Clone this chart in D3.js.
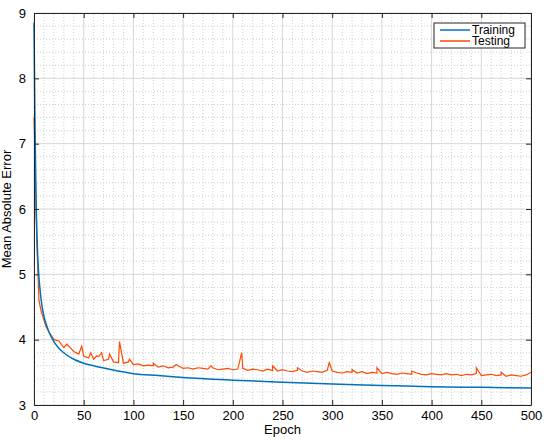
<!DOCTYPE html>
<html><head><meta charset="utf-8">
<script src="https://cdn.jsdelivr.net/npm/d3@7"></script>
<style>body{margin:0;background:#fff}text{font-family:"Liberation Sans",Arial,sans-serif}</style>
</head><body><svg id="chart" width="550" height="440"></svg>
<script>
// Training curve samples (epoch, MAE)
const trainEpochs = [0,1,2,3,4,5,6,8,10,12,15,20,25,30,40,50,60,75,100,125,150,200,250,300,350,400,450,500];
const trainValues = [8.85,7.3,6.2,5.6,5.2,4.95,4.78,4.52,4.36,4.25,4.12,3.97,3.87,3.8,3.7,3.64,3.6,3.55,3.48,3.45,3.42,3.38,3.35,3.32,3.3,3.28,3.27,3.26];

// Testing curve samples every 5 epochs
const testBase = [7.4,4.6,4.3,4.12,4.0,3.98,3.88,3.9,3.82,3.78,3.75,3.72,3.7,3.74,3.68,3.7,3.66,3.65,3.64,3.66,
  3.62,3.63,3.6,3.61,3.6,3.58,3.6,3.57,3.58,3.6,3.56,3.57,3.55,3.57,3.56,3.55,3.57,3.54,3.55,3.56,
  3.54,3.55,3.56,3.53,3.55,3.54,3.52,3.55,3.53,3.52,3.54,3.52,3.51,3.53,3.52,3.5,3.52,3.51,3.5,3.53,
  3.52,3.5,3.49,3.51,3.5,3.49,3.51,3.48,3.5,3.49,3.48,3.5,3.48,3.47,3.49,3.48,3.47,3.49,3.47,3.46,
  3.48,3.47,3.46,3.48,3.46,3.47,3.45,3.47,3.46,3.48,3.45,3.46,3.47,3.45,3.46,3.44,3.46,3.45,3.44,3.46,3.5];
// Extra early points and spikes
const testExtraEpochs = [1,2,3,4,7,12,33,48,57,63,68,76,86,96,120,143,178,209,240,265,297,320,345,380,445,470];
const testExtraValues = [6.9,6.0,5.4,5.0,4.45,4.2,3.93,3.9,3.8,3.75,3.8,3.78,3.97,3.7,3.64,3.62,3.6,3.8,3.6,3.57,3.65,3.54,3.57,3.52,3.57,3.5];

const testPts = testBase.map((v,i)=>[i*5,v]).concat(testExtraEpochs.map((e,i)=>[e,testExtraValues[i]])).sort((a,b)=>a[0]-b[0]);
const trainPts = trainEpochs.map((e,i)=>[e,trainValues[i]]);

const m = {l:34, t:13, r:19, b:35};
const W = 550, H = 440;
const svg = d3.select("#chart");
const x = d3.scaleLinear().domain([0,500]).range([m.l, W-m.r]);
const y = d3.scaleLinear().domain([3,9]).range([H-m.b, m.t]);
const g = svg.append("g");

// minor grid
g.selectAll(".mx").data(d3.range(0,501,10)).join("line")
  .attr("x1",d=>x(d)).attr("x2",d=>x(d)).attr("y1",y(3)).attr("y2",y(9))
  .attr("stroke",d=>d%50===0?"#d6d6d6":"#cfcfcf").attr("stroke-dasharray",d=>d%50===0?null:"1,2");
g.selectAll(".my").data(d3.range(3,9.01,0.2)).join("line")
  .attr("y1",d=>y(d)).attr("y2",d=>y(d)).attr("x1",x(0)).attr("x2",x(500))
  .attr("stroke",d=>Math.abs(d-Math.round(d))<1e-6?"#d6d6d6":"#cfcfcf")
  .attr("stroke-dasharray",d=>Math.abs(d-Math.round(d))<1e-6?null:"1,2");

const line = d3.line().x(d=>x(d[0])).y(d=>y(d[1]));
g.append("path").datum(testPts).attr("d",line).attr("fill","none").attr("stroke","#ff4a00").attr("stroke-width",1.2);
g.append("path").datum(trainPts).attr("d",line.curve(d3.curveMonotoneX)).attr("fill","none").attr("stroke","#0072bd").attr("stroke-width",1.5);

// axes
const axB = svg.append("g").attr("transform",`translate(0,${y(3)})`)
  .call(d3.axisBottom(x).tickValues(d3.range(0,501,50)).tickSizeInner(-5).tickSizeOuter(0).tickPadding(6));
const axL = svg.append("g").attr("transform",`translate(${x(0)},0)`)
  .call(d3.axisLeft(y).ticks(6).tickFormat(d3.format("d")).tickSizeInner(-5).tickSizeOuter(0).tickPadding(8));
const axT = svg.append("g").attr("transform",`translate(0,${y(9)})`)
  .call(d3.axisTop(x).tickValues(d3.range(0,501,50)).tickSizeInner(-5).tickSizeOuter(0).tickFormat(""));
const axR = svg.append("g").attr("transform",`translate(${x(500)},0)`)
  .call(d3.axisRight(y).ticks(6).tickSizeInner(-5).tickSizeOuter(0).tickFormat(""));
[axB,axL,axT,axR].forEach(a=>{a.selectAll("path,line").attr("stroke","#262626");a.selectAll("text").attr("font-size",13).attr("fill","#000");});

svg.append("text").attr("x",(x(0)+x(500))/2).attr("y",434).attr("text-anchor","middle").attr("font-size",13).text("Epoch");
svg.append("text").attr("transform",`translate(11,${(y(3)+y(9))/2}) rotate(-90)`).attr("text-anchor","middle").attr("font-size",13).text("Mean Absolute Error");

// legend
const lg = svg.append("g").attr("transform","translate(434,23)");
lg.append("rect").attr("width",91).attr("height",25).attr("fill","#fff").attr("stroke","#262626");
[["Training","#0072bd"],["Testing","#ff4a00"]].forEach((d,i)=>{
  lg.append("line").attr("x1",6).attr("x2",36).attr("y1",7+i*11).attr("y2",7+i*11).attr("stroke",d[1]).attr("stroke-width",1.5);
  lg.append("text").attr("x",38).attr("y",11+i*11).attr("font-size",12).text(d[0]);
});
</script></body></html>
